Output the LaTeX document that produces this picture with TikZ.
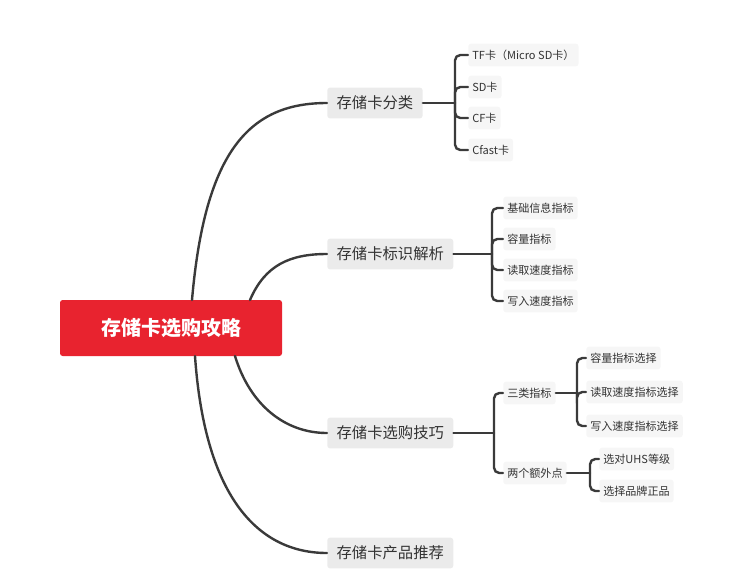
\documentclass[tikz,border=0pt]{standalone}
\usepackage{fontspec}
\setmainfont{Noto Sans CJK SC}
\usetikzlibrary{positioning}
\definecolor{rootred}{HTML}{E8232F}
\definecolor{topicgray}{HTML}{EBEBEB}
\definecolor{leafgray}{HTML}{F6F6F6}
\definecolor{linegray}{HTML}{3A3A3A}
\tikzset{
  rootbox/.style={fill=rootred,text=white,font=\fontsize{15}{18}\selectfont\bfseries,minimum width=166.5pt,minimum height=42pt,rounded corners=2pt},
  topic/.style={fill=topicgray,text=black!80,font=\fontsize{11.5}{13}\selectfont,minimum height=23pt,inner xsep=7pt,anchor=west,rounded corners=2pt},
  leaf/.style={fill=leafgray,text=black!80,font=\fontsize{8.3}{10}\selectfont,minimum height=17pt,inner xsep=3pt,anchor=west,rounded corners=2pt},
  link/.style={draw=linegray,line width=1.8pt,line cap=round},
  brace/.style={link,rounded corners=4pt}
}
\begin{document}
\begin{tikzpicture}[x=0.75pt,y=-0.75pt]
\useasboundingbox (0,0) rectangle (736,576);
%
\node[rootbox] (root) at (171,328) {存储卡选购攻略};
%
\node[topic] (t1) at (327,103) {存储卡分类};
\node[topic] (t2) at (327,254) {存储卡标识解析};
\node[topic] (t3) at (327,433) {存储卡选购技巧};
\node[topic] (t4) at (327,553) {存储卡产品推荐};
%
\draw[link] (192,300) .. controls (205,150) and (250,103) .. (t1.west);
\draw[link] (250,300) .. controls (265,265) and (290,254) .. (t2.west);
\draw[link] (235,356) .. controls (250,405) and (285,433) .. (t3.west);
\draw[link] (195,356) .. controls (205,500) and (260,553) .. (t4.west);
%
\node[leaf] (a1) at (468,55) {TF卡（Micro SD卡）};
\node[leaf] (a2) at (468,87) {SD卡};
\node[leaf] (a3) at (468,118) {CF卡};
\node[leaf] (a4) at (468,150) {Cfast卡};
\draw[link] (t1.east) -- (455,103);
\foreach \c in {a1,a2,a3,a4}
  \draw[brace] (455,103) |- (\c.west);
%
\node[leaf] (b1) at (503,208) {基础信息指标};
\node[leaf] (b2) at (503,239) {容量指标};
\node[leaf] (b3) at (503,270) {读取速度指标};
\node[leaf] (b4) at (503,301) {写入速度指标};
\draw[link] (t2.east) -- (492,254);
\foreach \c in {b1,b2,b3,b4}
  \draw[brace] (492,254) |- (\c.west);
%
\node[leaf] (c1) at (503,393) {三类指标};
\node[leaf] (c2) at (503,473) {两个额外点};
\draw[link] (t3.east) -- (494,433);
\foreach \c in {c1,c2}
  \draw[brace] (494,433) |- (\c.west);
%
\node[leaf] (d1) at (586,358) {容量指标选择};
\node[leaf] (d2) at (586,392) {读取速度指标选择};
\node[leaf] (d3) at (586,426) {写入速度指标选择};
\draw[link] (c1.east) -- (577,393);
\foreach \c in {d1,d2,d3}
  \draw[brace] (577,393) |- (\c.west);
%
\node[leaf] (e1) at (599,459) {选对UHS等级};
\node[leaf] (e2) at (599,491) {选择品牌正品};
\draw[link] (c2.east) -- (590,473);
\foreach \c in {e1,e2}
  \draw[brace] (590,473) |- (\c.west);
%
\end{tikzpicture}
\end{document}
